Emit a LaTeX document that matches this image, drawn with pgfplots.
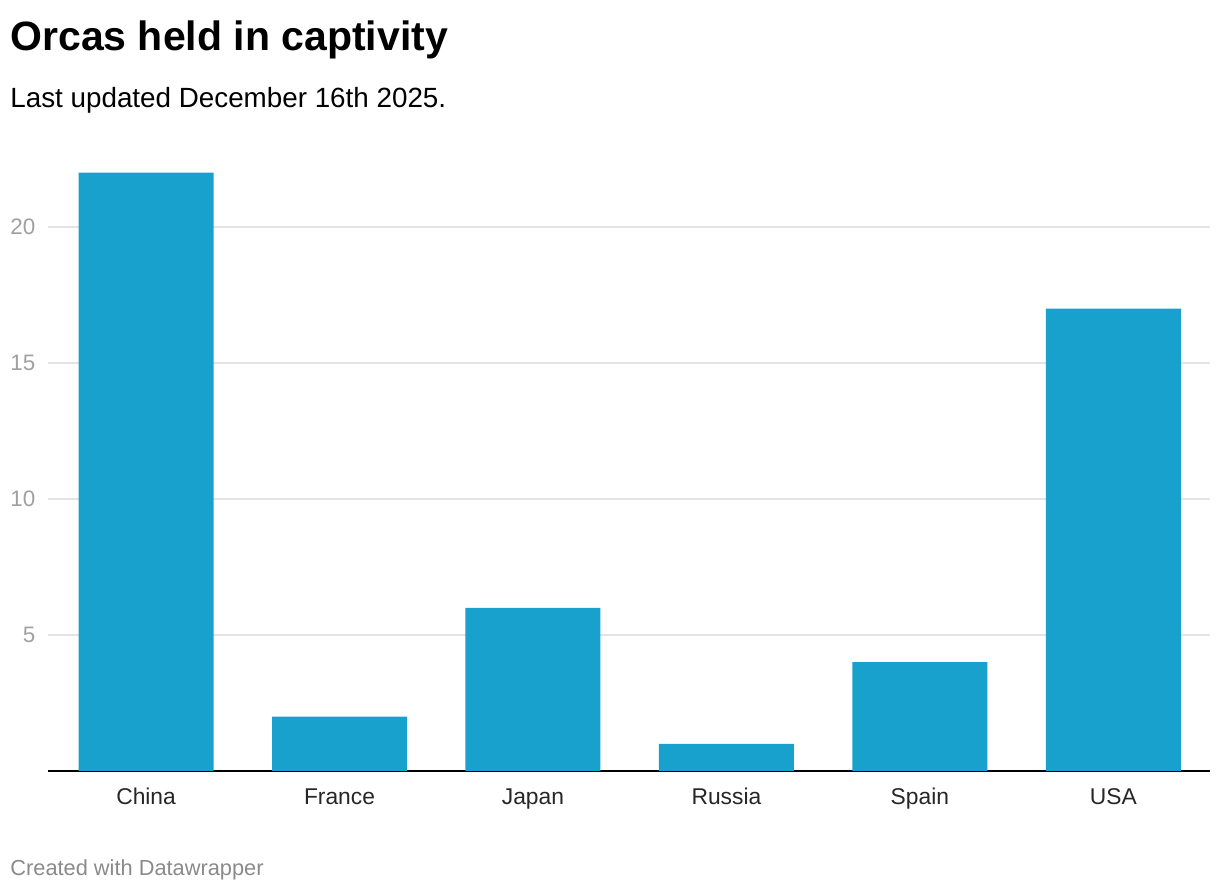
\documentclass[border=0pt]{standalone}
\usepackage{pgfplots}
\pgfplotsset{compat=1.18}
\usepackage{fontspec}
\setmainfont{Liberation Sans}
\definecolor{barblue}{HTML}{18A1CC}
\definecolor{ticgrey}{HTML}{A0A0A0}
\definecolor{gridgrey}{HTML}{E3E3E3}
\definecolor{footgrey}{HTML}{8A8A8A}
\begin{document}
\begin{tikzpicture}[x=1pt,y=1pt]
\path[use as bounding box] (0,0) rectangle (610,446);
\node[anchor=base west, inner sep=0, font=\bfseries\fontsize{20.5}{24}\selectfont] at (5,420.5) {Orcas held in captivity};
\node[anchor=base west, inner sep=0, font=\fontsize{13.9}{16}\selectfont] at (5,392) {Last updated December 16th 2025.};
\node[anchor=base west, inner sep=0, text=footgrey, font=\fontsize{10.9}{12}\selectfont] at (5,8) {Created with Datawrapper};
\begin{axis}[
  at={(24pt,60.5pt)}, anchor=south west,
  scale only axis, width=581pt, height=299.2pt,
  xmin=-0.507, xmax=5.5, ymin=0, ymax=22,
  axis x line=bottom, axis y line=left,
  x axis line style={black, line width=0.8pt, -},
  y axis line style={draw=none},
  xtick={0,1,2,3,4,5},
  xticklabels={China,France,Japan,Russia,Spain,USA},
  xtick style={draw=none}, ytick style={draw=none},
  xticklabel style={font=\fontsize{11.4}{13}\selectfont, text=black!85, anchor=base, yshift=-14.5pt, inner sep=0},
  ytick={5,10,15,20},
  ymajorgrids, grid style={gridgrey, line width=0.6pt},
  yticklabel style={anchor=east, xshift=-4pt, inner sep=0, text=ticgrey, font=\fontsize{11.2}{13}\selectfont},
  /pgf/number format/assume math mode=true,
  clip=false,
]
\addplot[ybar, bar width=67.5pt, fill=barblue, draw=none] coordinates {
  (0,22) (1,2) (2,6) (3,1) (4,4) (5,17)
};
\end{axis}
\end{tikzpicture}
\end{document}
